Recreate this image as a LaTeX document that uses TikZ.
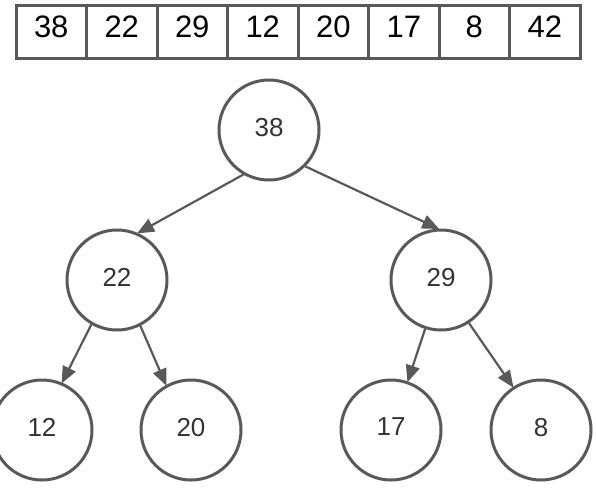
\documentclass[tikz,border=0pt]{standalone}
\usepackage{fontspec}
\setmainfont{Liberation Sans}
\usetikzlibrary{arrows.meta}
\definecolor{edge}{HTML}{595959}
\definecolor{numtxt}{HTML}{333333}
\begin{document}
\begin{tikzpicture}[x=1pt,y=-1pt,
  cell/.style={draw=edge,line width=3pt,rectangle,minimum width=70.5pt,minimum height=53pt,inner sep=0pt,
    font=\fontsize{31}{31}\selectfont,text=black,text depth=9pt},
  heapnode/.style={draw=edge,line width=3pt,circle,minimum size=100pt,inner sep=0pt,
    font=\fontsize{26}{26}\selectfont,text=numtxt,text depth=6pt},
  link/.style={draw=edge,line width=2.2pt,-{Triangle[length=17pt,width=14pt]},shorten >=-1pt}]
\useasboundingbox (0,0) rectangle (596,493);
\foreach \v [count=\i] in {38,22,29,12,20,17,8,42}{
  \node[cell] (c\i) at ({16+70.5*(\i-0.5)},31.5) {\v};
}
\node[heapnode] (n38) at (269,130) {38};
\node[heapnode] (n22) at (117,280) {22};
\node[heapnode] (n29) at (441,280) {29};
\node[heapnode] (n12) at (42,430) {12};
\node[heapnode] (n20) at (191,430) {20};
\node[heapnode] (n17) at (391,430) {17};
\node[heapnode] (n8) at (541,430) {8};
\draw[link] (n38.-120) -- (n22.66);
\draw[link] (n38.-45) -- (n29.93);
\draw[link] (n22.-120) -- (n12.67);
\draw[link] (n22.-63) -- (n20.119);
\draw[link] (n29.-108) -- (n17.71);
\draw[link] (n29.-57) -- (n8.123);
\end{tikzpicture}
\end{document}
